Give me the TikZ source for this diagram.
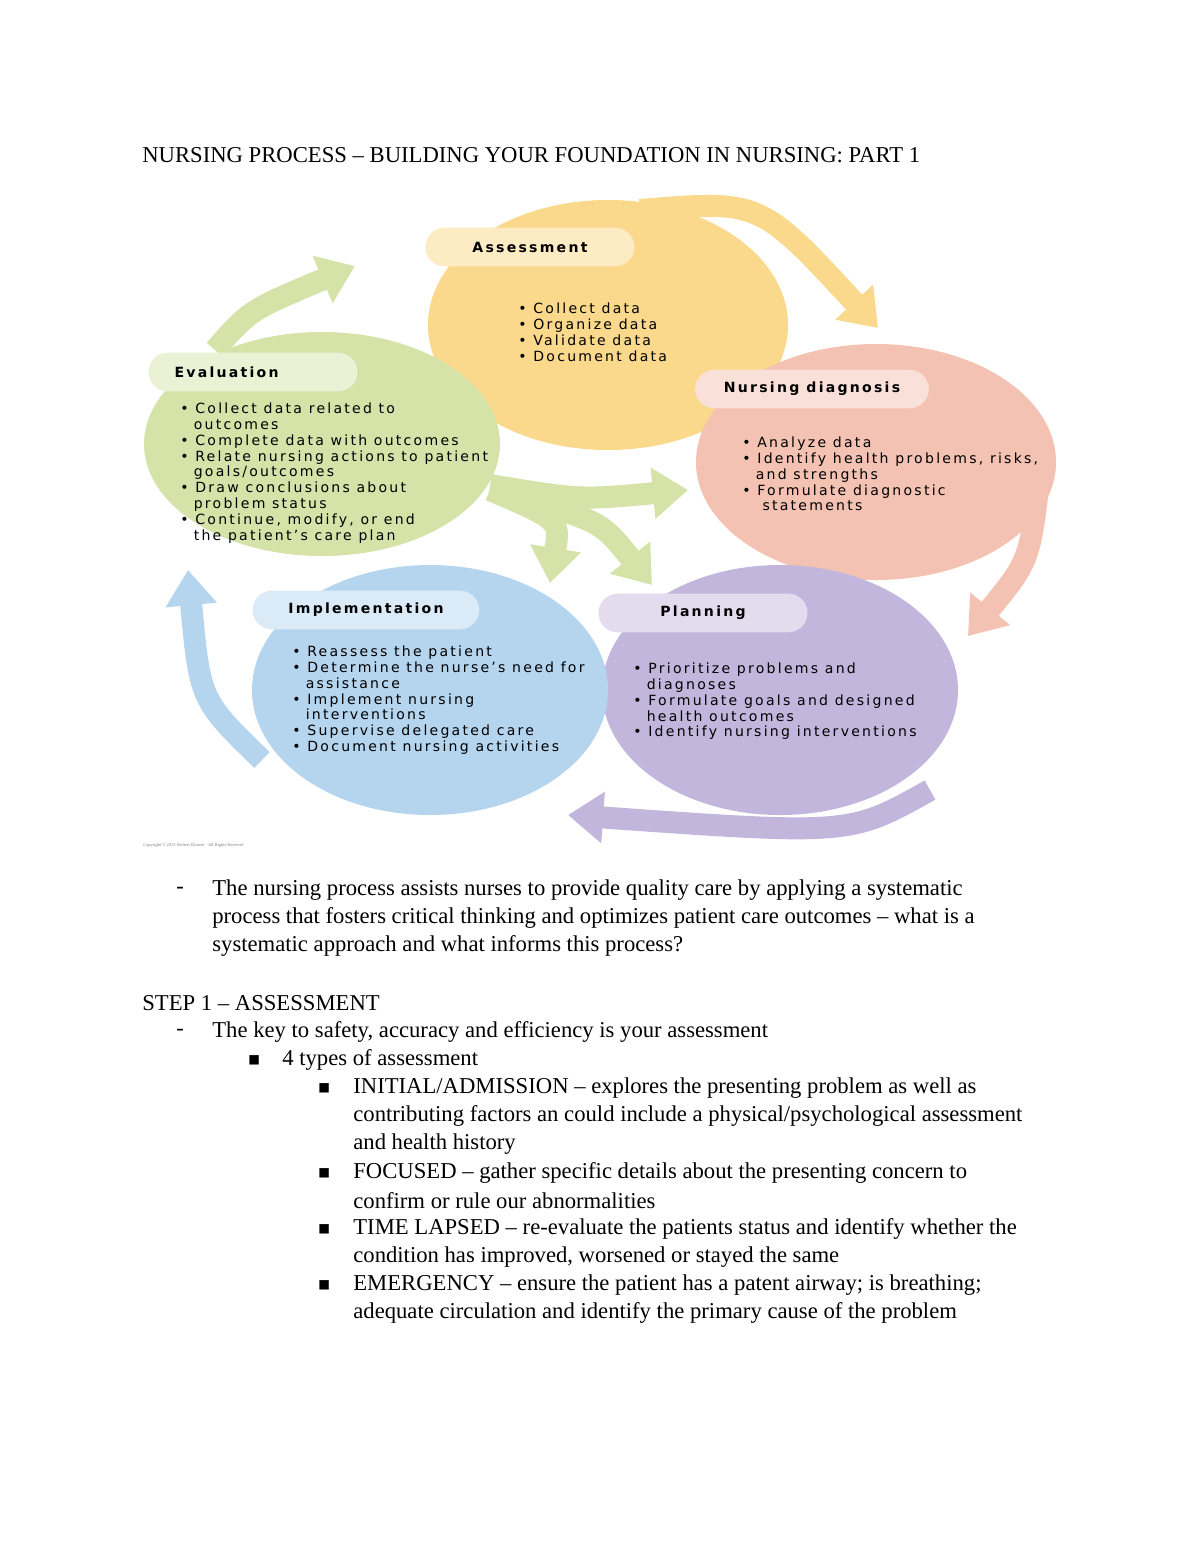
\documentclass[tikz,border=0pt]{standalone}
\usepackage{fontspec}
\setmainfont{Liberation Serif}
\newfontfamily\djfont{DejaVu Sans}
\newfontfamily\djwide[LetterSpace=16]{DejaVu Sans}
\usetikzlibrary{arrows.meta}
\definecolor{cA}{HTML}{FAD88C}\definecolor{cAl}{HTML}{FDEBC4}
\definecolor{cD}{HTML}{F4C2B2}\definecolor{cDl}{HTML}{F9E0D8}
\definecolor{cP}{HTML}{C2B6DC}\definecolor{cPl}{HTML}{E2DCEE}
\definecolor{cI}{HTML}{B5D5EF}\definecolor{cIl}{HTML}{DAEAF7}
\definecolor{cE}{HTML}{D5E3A9}\definecolor{cEl}{HTML}{EAF1D4}
\tikzset{
 blkarrow/.style={line width=12.5pt, -{Triangle[width=28pt,length=20pt]}},
 pill/.style={rounded corners=11pt, minimum height=22pt, inner sep=0, font=\djwide\bfseries\fontsize{8}{9}\selectfont},
 lst/.style={anchor=north west, align=left, inner sep=0, font=\djwide\fontsize{8}{9.1}\selectfont},
 body/.style={anchor=west, inner sep=0, font=\fontsize{12.9}{14}\selectfont},
}
\begin{document}
\begin{tikzpicture}[x=0.02cm,y=-0.02cm]
\useasboundingbox[fill=white] (0,0) rectangle (1200,1553);
\node[body] (title) at (142,155) {NURSING PROCESS -- BUILDING YOUR FOUNDATION IN NURSING: PART 1};
% arrows
\draw[cE, blkarrow] (215,350) .. controls (250,310) .. (355,266);
\draw[cA, blkarrow] (640,210) .. controls (760,200) .. (878,328);
\draw[cD, blkarrow] (1040,470) .. controls (1030,560) .. (968,636);
\draw[cP, blkarrow] (930,790) .. controls (850,835) .. (568,815);
\draw[cI, blkarrow] (262,760) .. controls (200,700) .. (188,570);
\draw[cE, blkarrow] (490,485) .. controls (580,500) .. (688,490);
\draw[cE, blkarrow] (490,490) .. controls (560,520) .. (550,583);
\draw[cE, blkarrow] (495,492) .. controls (600,520) .. (652,585);
% ellipses
\fill[cA] (608,325) ellipse [x radius=180, y radius=125];
\fill[cD] (876,462) ellipse [x radius=180, y radius=118];
\fill[cE] (322,444) ellipse [x radius=178, y radius=112];
\fill[cP] (780,690) ellipse [x radius=178, y radius=125];
\fill[cI] (430,690) ellipse [x radius=178, y radius=125];
% pills
\node[pill, fill=cAl, minimum width=119pt] (pA) at (530,247) {Assessment};
\node[pill, fill=cEl, minimum width=119pt] (pE) at (253,372) {Evaluation\hspace*{30pt}};
\node[pill, fill=cDl, minimum width=133pt] (pD) at (812,389) {Nursing diagnosis};
\node[pill, fill=cIl, minimum width=129pt] (pI) at (366,610) {Implementation};
\node[pill, fill=cPl, minimum width=119pt] (pP) at (703,613) {Planning};
% lists
\node[lst] (lA) at (518,302) {• Collect data\\• Organize data\\• Validate data\\• Document data};
\node[lst] (lE) at (180,402) {• Collect data related to\\\ \ outcomes\\• Complete data with outcomes\\• Relate nursing actions to patient\\\ \ goals/outcomes\\• Draw conclusions about\\\ \ problem status\\• Continue, modify, or end\\\ \ the patient’s care plan};
\node[lst] (lD) at (742,436) {• Analyze data\\• Identify health problems, risks,\\\ \ and strengths\\• Formulate diagnostic\\\ \ \ statements};
\node[lst] (lI) at (292,645) {• Reassess the patient\\• Determine the nurse’s need for\\\ \ assistance\\• Implement nursing\\\ \ interventions\\• Supervise delegated care\\• Document nursing activities};
\node[lst] (lP) at (633,662) {• Prioritize problems and\\\ \ diagnoses\\• Formulate goals and designed\\\ \ health outcomes\\• Identify nursing interventions};
\node[anchor=west, inner sep=0, font=\fontsize{2.5}{3}\selectfont, text=gray] (copy) at (143,845) {Copyright © 2015 Wolters Kluwer · All Rights Reserved};
% body
\node[body] (d1) at (176,890) {-};
\node[body] (t1) at (212,890) {The nursing process assists nurses to provide quality care by applying a systematic};
\node[body] (t2) at (212,918) {process that fosters critical thinking and optimizes patient care outcomes -- what is a};
\node[body] (t3) at (212,946) {systematic approach and what informs this process?};
\node[body] (s1) at (142,1003) {STEP 1 -- ASSESSMENT};
\node[body] (d2) at (176,1032) {-};
\node[body] (t4) at (212,1032) {The key to safety, accuracy and efficiency is your assessment};
\node[body] (b0) at (248,1060) {\djfont\fontsize{7}{8}\selectfont ■};
\node[body] (t5) at (282,1060) {4 types of assessment};
\foreach \y in {1088,1173,1229,1285} \node[body] at (318,\y) {\djfont\fontsize{7}{8}\selectfont ■};
\node[body] (u1) at (353,1088) {INITIAL/ADMISSION -- explores the presenting problem as well as};
\node[body] (u2) at (353,1116) {contributing factors an could include a physical/psychological assessment};
\node[body] (u3) at (353,1144) {and health history};
\node[body] (v1) at (353,1173) {FOCUSED -- gather specific details about the presenting concern to};
\node[body] (v2) at (353,1201) {confirm or rule our abnormalities};
\node[body] (w1) at (353,1229) {TIME LAPSED -- re-evaluate the patients status and identify whether the};
\node[body] (w2) at (353,1257) {condition has improved, worsened or stayed the same};
\node[body] (x1) at (353,1285) {EMERGENCY -- ensure the patient has a patent airway; is breathing;};
\node[body] (x2) at (353,1313) {adequate circulation and identify the primary cause of the problem};
\end{tikzpicture}
\end{document}
